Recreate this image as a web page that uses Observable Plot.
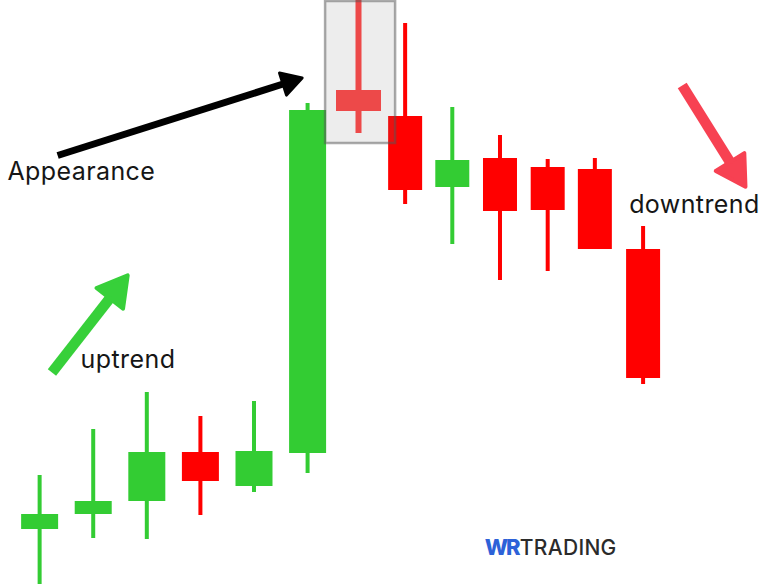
<!DOCTYPE html>
<html><head><meta charset="utf-8">
<script src="https://cdn.jsdelivr.net/npm/d3@7"></script>
<script src="https://cdn.jsdelivr.net/npm/@observablehq/plot@0.6"></script>
<style>html,body{margin:0;padding:0;background:#fff;overflow:hidden}</style>
</head><body><div id="chart"></div>
<script>
// Candles (session index, price units)
const sessions = [0, 1, 2, 3, 4, 5, 5.95, 6.82, 7.70, 8.59, 9.48, 10.36, 11.26];
const opens  = [57, 72, 85, 134, 100, 133, 496, 470, 399, 428, 419, 417, 337];
const closes = [72, 85, 134, 105, 135, 476, 475, 396, 426, 375, 376, 337, 208];
const highs  = [111, 157, 194, 170, 185, 483, 586, 563, 479, 451, 427, 428, 360];
const lows   = [2, 48, 47, 71, 94, 113, 453, 382, 342, 306, 315, 337, 202];
const highlightIndex = 6;

// Highlight box around the "appearance" candle
const boxT = [5.336, 6.642];
const boxP = [443, 585];

// Labels
const labelText = ["Appearance", "uptrend", "downtrend"];
const labelT = [-0.60, 0.765, 11.0];
const labelP = [407, 219, 374];

// Arrows
const arrowName = ["appearance", "up", "down"];
const arrowTailT = [0.336, 0.23, 11.99];
const arrowTailP = [431, 214, 501];
const arrowTipT = [4.925, 1.666, 13.19];
const arrowTipP = [509, 312.7, 398];

// Logo
const logoParts = ["WR", "TRADING"];
const logoT = [8.937, 8.96];
const logoP = [31.5, 31.5];

const W = 768, H = 586;
const xDomain = [-0.73, 13.6], yDomain = [0, 586];
const sx = Plot.scale({x: {domain: xDomain, range: [0, W]}});
const sy = Plot.scale({y: {domain: yDomain, range: [H, 0]}});

const candles = sessions.map((t, i) => ({t, open: opens[i], close: closes[i], high: highs[i], low: lows[i], i}));
const normal = candles.filter(d => d.i !== highlightIndex);
const hl = candles.filter(d => d.i === highlightIndex);
const GREEN = "#33cc33", RED = "#ff0000";
const col = d => d.close >= d.open ? GREEN : RED;

const arrowStyle = {
  appearance: {color: "#000000", shaft: 7, r: 8.6, sw: 3},
  up: {color: "#37d03a", shaft: 10.5, r: 12.5, sw: 4},
  down: {color: "#f74152", shaft: 10.5, r: 12.5, sw: 4}
};
const arrows = arrowName.map((n, i) => {
  const st = arrowStyle[n];
  const x0 = sx.apply(arrowTailT[i]), y0 = sy.apply(arrowTailP[i]);
  const x1 = sx.apply(arrowTipT[i]), y1 = sy.apply(arrowTipP[i]);
  const dx = x1 - x0, dy = y1 - y0, L = Math.hypot(dx, dy);
  const ux = dx / L, uy = dy / L;
  const k = Math.sqrt(Math.PI / (3 * Math.sqrt(3))) * st.r;
  const back = 2 * k + st.sw / 2;
  const cx = x1 - ux * back, cy = y1 - uy * back;
  return {
    n, ...st,
    t0: arrowTailT[i], p0: arrowTailP[i],
    ct: sx.invert(cx), cp: sy.invert(cy),
    angle: Math.atan2(dx, -dy) * 180 / Math.PI
  };
});

const marks = [
  // wicks
  Plot.ruleX(normal, {x: "t", y1: "low", y2: "high", stroke: col, strokeWidth: 4}),
  // bodies
  Plot.ruleX(normal, {x: "t", y1: "open", y2: "close", stroke: col,
    strokeWidth: d => d.t < 5.5 ? 37 : 34}),
  // highlighted candle
  Plot.ruleX(hl, {x: "t", y1: "low", y2: "high", stroke: "#ff4343", strokeWidth: 6}),
  Plot.ruleX(hl, {x: "t", y1: "open", y2: "close", stroke: "#ff4343", strokeWidth: 45}),
  // highlight box
  Plot.rect([{x1: boxT[0], x2: boxT[1], y1: boxP[0], y2: boxP[1]}],
    {x1: "x1", x2: "x2", y1: "y1", y2: "y2", fill: "#777", fillOpacity: 0.13,
     stroke: "#555", strokeOpacity: 0.5, strokeWidth: 2.5}),
];
for (const a of arrows) {
  marks.push(Plot.link([a], {x1: "t0", y1: "p0", x2: "ct", y2: "cp", stroke: a.color,
    strokeWidth: a.shaft, strokeLinecap: "butt"}));
  marks.push(Plot.dot([a], {x: "ct", y: "cp", symbol: "triangle", r: a.r, rotate: a.angle,
    fill: a.color, stroke: a.color, strokeWidth: a.sw, strokeLinejoin: "round"}));
}
marks.push(Plot.text(labelText.map((s, i) => ({s, t: labelT[i], p: labelP[i]})),
  {x: "t", y: "p", text: "s", textAnchor: "start", lineAnchor: "bottom",
   fontSize: 25, fontFamily: "Inter", fill: "#161616"}));
marks.push(Plot.text([{s: logoParts[0], t: logoT[0], p: logoP[0]}],
  {x: "t", y: "p", text: "s", textAnchor: "end", lineAnchor: "bottom",
   fontSize: 22, fontWeight: 800, fontFamily: "Inter", fill: "#2d62d8"}));
marks.push(Plot.text([{s: logoParts[1], t: logoT[1], p: logoP[1]}],
  {x: "t", y: "p", text: "s", textAnchor: "start", lineAnchor: "bottom",
   fontSize: 21, fontWeight: 500, fontFamily: "Inter", fill: "#2b2b2b"}));

const chart = Plot.plot({
  width: W, height: H,
  margin: 0,
  x: {domain: xDomain, axis: null},
  y: {domain: yDomain, axis: null},
  style: {background: "#fff", overflow: "hidden"},
  marks
});
d3.select(chart).selectAll("text").filter(function() { return ["Appearance", "uptrend", "downtrend"].includes(this.textContent); })
  .attr("letter-spacing", "0.4");
d3.select(chart).selectAll("text").filter(function() { return this.textContent === "WR"; })
  .attr("letter-spacing", "-2");
d3.select(chart).selectAll("text").filter(function() { return this.textContent === "TRADING"; })
  .attr("letter-spacing", "0.3");
document.getElementById("chart").appendChild(chart);
</script>
</body></html>
